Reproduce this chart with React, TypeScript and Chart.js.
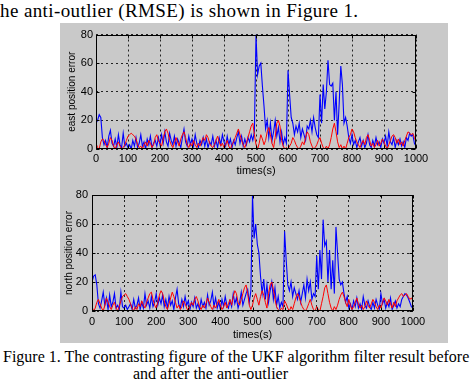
import React, { useEffect, useRef } from "react";
import { Chart, registerables } from "chart.js";

Chart.register(...registerables);

// sampling times (s)
const TIMES = [
  0, 5, 10, 15, 20, 25, 30, 35, 40, 45, 50, 55, 60, 65, 70, 75, 80, 85, 90, 95,
  100, 105, 110, 115, 120, 125, 130, 135, 140, 145, 150, 155, 160, 165, 170, 175, 180, 185, 190, 195,
  200, 205, 210, 215, 220, 225, 230, 235, 240, 245, 250, 255, 260, 265, 270, 275, 280, 285, 290, 295,
  300, 305, 310, 315, 320, 325, 330, 335, 340, 345, 350, 355, 360, 365, 370, 375, 380, 385, 390, 395,
  400, 405, 410, 415, 420, 425, 430, 435, 440, 445, 450, 455, 460, 465, 470, 475, 480, 485, 490, 495,
  500, 505, 510, 515, 520, 525, 530, 535, 540, 545, 550, 555, 560, 565, 570, 575, 580, 585, 590, 595,
  600, 605, 610, 615, 620, 625, 630, 635, 640, 645, 650, 655, 660, 665, 670, 675, 680, 685, 690, 695,
  700, 705, 710, 715, 720, 725, 730, 735, 740, 745, 750, 755, 760, 765, 770, 775, 780, 785, 790, 795,
  800, 805, 810, 815, 820, 825, 830, 835, 840, 845, 850, 855, 860, 865, 870, 875, 880, 885, 890, 895,
  900, 905, 910, 915, 920, 925, 930, 935, 940, 945, 950, 955, 960, 965, 970, 975, 980, 985, 990, 995,
  1000,
];

// east position error, before anti-outlier (blue)
const EAST_BEFORE = [
  18, 20, 24, 22, 8, 3, 6, 1, 9, 13, 4, 2, 7, 1, 10, 3, 1, 11, 2, 4,
  1, 3, 0, 6, 2, 8, 1, 4, 10, 2, 5, 0, 7, 3, 9, 1, 4, 6, 2, 8,
  3, 10, 4, 12, 5, 2, 11, 6, 3, 9, 2, 7, 4, 1, 8, 14, 5, 2, 9, 3,
  7, 2, 10, 4, 1, 6, 3, 8, 2, 7, 1, 5, 3, 9, 2, 6, 1, 8, 3, 10,
  5, 2, 9, 3, 7, 1, 6, 3, 8, 12, 4, 9, 2, 7, 3, 8, 5, 10, 6, 12,
  80, 52, 58, 60, 44, 30, 14, 20, 8, 18, 6, 12, 20, 9, 15, 5, 12, 3, 8, 4,
  55, 38, 22, 18, 10, 16, 12, 18, 8, 14, 10, 6, 16, 14, 20, 12, 22, 15, 10, 8,
  38, 18, 45, 28, 40, 62, 45, 44, 46, 20, 40, 10, 32, 58, 45, 18, 22, 16, 8, 4,
  10, 3, 6, 1, 5, 8, 2, 6, 1, 4, 10, 3, 1, 6, 2, 8, 3, 5, 1, 7,
  4, 9, 2, 12, 5, 3, 8, 1, 6, 3, 7, 2, 5, 1, 8, 6, 11, 9, 10, 4,
  2,
];

// east position error, after anti-outlier (red)
const EAST_AFTER = [
  4, 1, 0, 5, 7, 6, 3, 1, 4, 8, 6, 2, 0, 3, 5, 2, 0, 1, 3, 6,
  9, 10, 11, 10, 9, 7, 3, 1, 2, 0, 3, 5, 2, 6, 4, 1, 3, 8, 10, 6,
  4, 2, 7, 12, 14, 11, 6, 3, 1, 4, 8, 5, 2, 7, 10, 12, 8, 3, 1, 4,
  2, 6, 3, 1, 4, 2, 5, 8, 6, 10, 8, 4, 2, 1, 3, 6, 9, 5, 2, 4,
  1, 3, 6, 2, 0, 3, 5, 8, 11, 14, 10, 6, 3, 1, 4, 8, 12, 16, 18, 10,
  3, 0, 4, 10, 7, 3, 6, 12, 15, 10, 4, 1, 8, 18, 20, 16, 6, 2, 0, 1,
  0, 2, 4, 8, 6, 3, 1, 0, 2, 5, 3, 8, 12, 10, 5, 2, 0, 1, 3, 6,
  8, 4, 1, 0, 2, 0, 3, 8, 14, 18, 12, 5, 1, 3, 0, 2, 0, 4, 8, 10,
  14, 12, 8, 5, 3, 1, 4, 6, 3, 8, 10, 6, 2, 4, 1, 3, 6, 2, 4, 7,
  5, 2, 0, 3, 6, 9, 10, 8, 4, 7, 3, 5, 2, 6, 9, 12, 11, 10, 11, 8,
  5,
];

// north position error, before anti-outlier (blue)
const NORTH_BEFORE = [
  20, 24, 25, 18, 5, 2, 7, 13, 4, 9, 1, 11, 3, 6, 12, 2, 4, 1, 13, 3,
  2, 4, 1, 3, 5, 1, 8, 2, 4, 9, 1, 6, 2, 12, 4, 7, 2, 10, 3, 6,
  12, 4, 9, 5, 11, 3, 8, 2, 10, 4, 7, 1, 9, 15, 5, 2, 8, 3, 10, 4,
  7, 1, 6, 3, 9, 2, 5, 1, 8, 3, 6, 2, 11, 4, 7, 13, 3, 9, 2, 6,
  1, 8, 3, 10, 4, 2, 7, 3, 12, 5, 9, 2, 6, 13, 4, 8, 12, 15, 6, 14,
  80, 50, 60, 46, 40, 24, 12, 22, 8, 18, 6, 14, 20, 8, 16, 4, 10, 2, 6, 3,
  55, 35, 18, 14, 20, 10, 16, 12, 8, 14, 6, 12, 18, 9, 22, 14, 20, 8, 12, 10,
  38, 15, 42, 22, 63, 45, 48, 20, 42, 15, 35, 12, 58, 40, 22, 18, 20, 12, 6, 10,
  2, 5, 1, 7, 3, 9, 2, 5, 1, 10, 4, 2, 7, 3, 1, 6, 2, 8, 4, 1,
  12, 5, 8, 2, 6, 3, 9, 1, 4, 7, 2, 5, 3, 8, 10, 12, 11, 9, 6, 3,
  2,
];

// north position error, after anti-outlier (red)
const NORTH_AFTER = [
  3, 0, 2, 6, 8, 5, 2, 0, 4, 9, 6, 3, 1, 4, 6, 2, 0, 3, 7, 10,
  11, 12, 10, 8, 5, 2, 0, 3, 1, 5, 3, 7, 4, 2, 6, 9, 12, 13, 8, 4,
  2, 6, 11, 14, 12, 7, 3, 1, 5, 9, 13, 10, 6, 2, 4, 1, 3, 7, 5, 2,
  0, 3, 6, 4, 8, 10, 7, 3, 1, 4, 2, 5, 9, 6, 3, 1, 4, 2, 5, 8,
  4, 1, 3, 6, 2, 5, 8, 4, 10, 14, 12, 6, 4, 8, 12, 16, 18, 12, 4, 1,
  4, 9, 12, 8, 4, 10, 14, 11, 6, 2, 12, 18, 20, 15, 8, 3, 1, 0, 2, 1,
  7, 5, 2, 0, 3, 1, 5, 9, 12, 10, 6, 3, 1, 0, 2, 5, 8, 4, 1, 0,
  3, 1, 0, 5, 10, 16, 18, 12, 6, 2, 0, 3, 1, 4, 8, 11, 13, 10, 6, 3,
  8, 4, 1, 3, 6, 9, 5, 2, 4, 1, 3, 7, 4, 2, 5, 8, 6, 3, 1, 4,
  2, 6, 9, 7, 4, 8, 5, 2, 6, 3, 7, 9, 11, 12, 10, 11, 12, 10, 8, 9,
  7,
];

const X_MIN = 0;
const X_MAX = 1000;
const X_STEP = 100;
const Y_MIN = 0;
const Y_MAX = 80;
const Y_STEP = 20;
const X_TITLE = "times(s)";
const EAST_TITLE = "east position error";
const NORTH_TITLE = "north position error";

const SANS = "'Liberation Sans', Arial, Helvetica, sans-serif";
const NARROW = "'Liberation Sans Narrow', 'Arial Narrow', 'Liberation Sans', Arial, sans-serif";
const SERIF = "'Liberation Serif', 'Times New Roman', Times, serif";

const boxPlugin = {
  id: "matlabBox",
  afterDatasetsDraw(chart: any) {
    const { ctx, chartArea, scales } = chart;
    const l = Math.round(chartArea.left) + 0.5;
    const t = Math.round(chartArea.top) + 0.5;
    const r = Math.round(chartArea.right) - 0.5;
    const b = Math.round(chartArea.bottom) - 0.5;
    ctx.save();
    ctx.setLineDash([]);
    ctx.strokeStyle = "#000";
    ctx.lineWidth = 1;
    ctx.strokeRect(l, t, r - l, b - t);
    const tl = 3;
    ctx.beginPath();
    scales.x.ticks.forEach((tk: any) => {
      const px = Math.round(scales.x.getPixelForValue(tk.value)) + 0.5;
      ctx.moveTo(px, b);
      ctx.lineTo(px, b - tl);
      ctx.moveTo(px, t);
      ctx.lineTo(px, t + tl);
    });
    scales.y.ticks.forEach((tk: any) => {
      const py = Math.round(scales.y.getPixelForValue(tk.value)) + 0.5;
      ctx.moveTo(l, py);
      ctx.lineTo(l + tl, py);
      ctx.moveTo(r, py);
      ctx.lineTo(r - tl, py);
    });
    ctx.stroke();
    ctx.restore();
  },
};

type Layout = {
  padTop: number;
  padRight: number;
  yWidth: number;
  xHeight: number;
  yTitlePad: number;
  yTickPad: number;
  xTickPad: number;
  xTitlePad: number;
};

function makeChart(
  canvas: HTMLCanvasElement,
  before: number[],
  after: number[],
  yTitle: string,
  lay: Layout
) {
  const toPts = (arr: number[]) => TIMES.map((t, i) => ({ x: t, y: arr[i] }));
  return new Chart(canvas, {
    type: "line",
    data: {
      datasets: [
        {
          data: toPts(after),
          borderColor: "#ff0000",
          borderWidth: 1,
          pointRadius: 0,
          tension: 0,
          order: 1,
        },
        {
          data: toPts(before),
          borderColor: "#0000ff",
          borderWidth: 1.1,
          pointRadius: 0,
          tension: 0,
          order: 2,
        },
      ],
    },
    options: {
      animation: false,
      responsive: false,
      devicePixelRatio: 1,
      parsing: false as any,
      normalized: true,
      layout: {
        padding: { top: lay.padTop, right: lay.padRight, left: 0, bottom: 0 },
      },
      plugins: {
        legend: { display: false },
        tooltip: { enabled: false },
      },
      scales: {
        x: {
          type: "linear",
          min: X_MIN,
          max: X_MAX,
          afterFit: (s: any) => {
            s.height = lay.xHeight;
          },
          ticks: {
            stepSize: X_STEP,
            autoSkip: false,
            maxRotation: 0,
            minRotation: 0,
            padding: lay.xTickPad,
            color: "#000",
            font: { family: NARROW, size: 11 },
            callback: (v: any) => String(v),
          },
          grid: {
            color: "#222",
            lineWidth: 1,
            drawTicks: false,
          },
          border: { display: false, dash: [2, 3] },
          title: {
            display: true,
            text: X_TITLE,
            color: "#000",
            font: { family: NARROW, size: 11 },
            padding: { top: 0, bottom: lay.xTitlePad },
          },
        },
        y: {
          type: "linear",
          min: Y_MIN,
          max: Y_MAX,
          afterFit: (s: any) => {
            s.width = lay.yWidth;
          },
          ticks: {
            stepSize: Y_STEP,
            padding: lay.yTickPad,
            color: "#000",
            font: { family: NARROW, size: 11 },
            callback: (v: any) => String(v),
          },
          grid: {
            color: "#222",
            lineWidth: 1,
            drawTicks: false,
          },
          border: { display: false, dash: [2, 3] },
          title: {
            display: true,
            text: yTitle,
            color: "#000",
            font: { family: SANS, size: 10 },
            padding: { top: lay.yTitlePad, bottom: 0 },
          },
        },
      },
    },
    plugins: [boxPlugin],
  } as any);
}

function Panel(props: {
  left: number;
  top: number;
  before: number[];
  after: number[];
  yTitle: string;
  lay: Layout;
}) {
  const ref = useRef<HTMLCanvasElement | null>(null);
  useEffect(() => {
    if (!ref.current) return;
    const c = makeChart(ref.current, props.before, props.after, props.yTitle, props.lay);
    return () => c.destroy();
  }, []);
  return (
    <canvas
      ref={ref}
      width={388}
      height={160}
      style={{ position: "absolute", left: props.left, top: props.top, width: 388, height: 160 }}
    />
  );
}

export default function App() {
  return (
    <div
      style={{
        position: "absolute",
        left: 0,
        top: 0,
        width: 474,
        height: 386,
        background: "#fff",
        overflow: "hidden",
      }}
    >
      <div
        style={{
          position: "absolute",
          left: 0,
          top: 0,
          fontFamily: SERIF,
          fontSize: 19,
          letterSpacing: 0.4,
          lineHeight: "22px",
          whiteSpace: "nowrap",
          color: "#000",
        }}
      >
        he anti-outlier (RMSE) is shown in Figure 1.
      </div>
      <div
        style={{
          position: "absolute",
          left: 60,
          top: 23,
          width: 388,
          height: 320,
          background: "#c9c9c9",
        }}
      />
      <Panel
        left={60}
        top={23}
        before={EAST_BEFORE}
        after={EAST_AFTER}
        yTitle={EAST_TITLE}
        lay={{
          padTop: 11.5,
          padRight: 32,
          yWidth: 36,
          xHeight: 34,
          yTitlePad: 6,
          yTickPad: 3,
          xTickPad: 3,
          xTitlePad: 5,
        }}
      />
      <Panel
        left={60}
        top={183}
        before={NORTH_BEFORE}
        after={NORTH_AFTER}
        yTitle={NORTH_TITLE}
        lay={{
          padTop: 12,
          padRight: 35,
          yWidth: 32,
          xHeight: 32,
          yTitlePad: 3.5,
          yTickPad: 4,
          xTickPad: 4,
          xTitlePad: 1.5,
        }}
      />
      <div
        style={{
          position: "absolute",
          left: 3,
          top: 348,
          fontFamily: SERIF,
          fontSize: 16,
          lineHeight: "17px",
          whiteSpace: "nowrap",
          color: "#000",
        }}
      >
        Figure 1. The contrasting figure of the UKF algorithm filter result before
      </div>
      <div
        style={{
          position: "absolute",
          left: 133,
          top: 365,
          fontFamily: SERIF,
          fontSize: 16,
          lineHeight: "17px",
          whiteSpace: "nowrap",
          color: "#000",
        }}
      >
        and after the anti-outlier
      </div>
    </div>
  );
}
